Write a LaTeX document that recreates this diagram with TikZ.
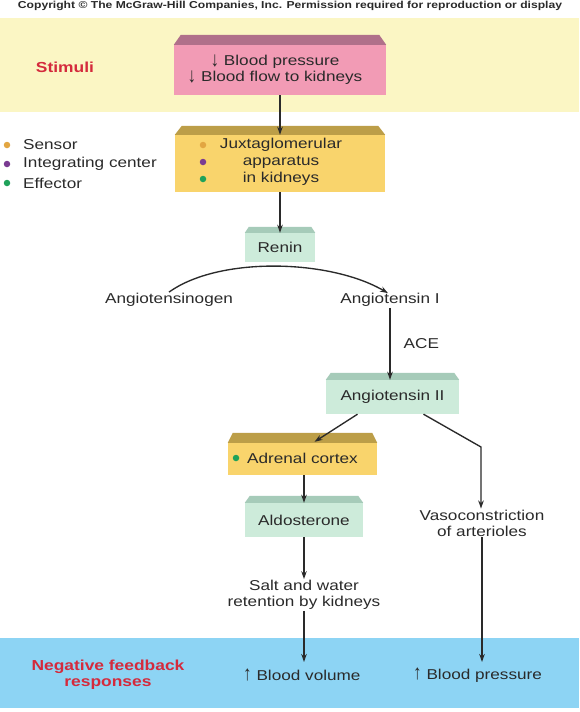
\documentclass[tikz,border=0pt]{standalone}
\usepackage{fontspec}
\setmainfont{Liberation Sans}[FakeStretch=1.2]
\usetikzlibrary{arrows.meta,calc}
\definecolor{bandyellow}{HTML}{FBF6C4}
\definecolor{bandblue}{HTML}{8DD4F4}
\definecolor{pinkbody}{HTML}{F29BB5}
\definecolor{pinkface}{HTML}{B0708A}
\definecolor{orangebody}{HTML}{F9D46C}
\definecolor{orangeface}{HTML}{BC9E48}
\definecolor{greenbody}{HTML}{CDEBDA}
\definecolor{greenface}{HTML}{A6CBB9}
\definecolor{txt}{HTML}{2A2A2A}
\definecolor{redtxt}{HTML}{D42A3C}
\definecolor{dotorange}{HTML}{E2A642}
\definecolor{dotpurple}{HTML}{7A3B92}
\definecolor{dotgreen}{HTML}{1FA25A}
\newcommand{\dn}{\raisebox{-1pt}{\scalebox{1}[1.45]{↓}}}
\newcommand{\up}{\raisebox{0pt}{\scalebox{1}[1.45]{↑}}}
\tikzset{
  txtnode/.style={inner sep=1pt, text=txt, font=\fontsize{14.3}{16}\selectfont, align=center},
  redlabel/.style={inner sep=1pt, text=redtxt, font=\fontsize{14.5}{16}\selectfont\bfseries, align=center},
  boxbody/.style={inner sep=0pt, text=txt, font=\fontsize{14.3}{16}\selectfont, align=center},
  conn/.style={draw=txt, line width=1.35pt, -{Stealth[length=8pt,width=5.5pt]}},
  dot/.style={circle, inner sep=0pt, minimum size=6.5pt}
}
\newcommand{\bevface}[4]{% node, depth, inset, colour
  \fill[#4] (#1.north west) -- ([xshift=#3, yshift=#2]#1.north west) -- ([xshift=-#3, yshift=#2]#1.north east) -- (#1.north east) -- cycle;}
\begin{document}
\begin{tikzpicture}[x=1pt, y=-1pt]
\useasboundingbox (0,0) rectangle (579,712);
\fill[white] (0,0) rectangle (579,712);
% copyright
\node[inner sep=0pt, text=txt, font=\fontsize{10.1}{11}\selectfont\bfseries] (copy) at (290,6) {Copyright \textcopyright{} The McGraw-Hill Companies, Inc. Permission required for reproduction or display};
% bands
\fill[bandyellow] (0,18) rectangle (579,112);
\fill[bandblue] (0,638) rectangle (579,708);
\node[redlabel] (stimuli) at (65,67) {Stimuli};
\node[redlabel] (negfb) at (108,675) {Negative feedback\\responses};
% stimulus box
\node[boxbody, fill=pinkbody, minimum width=212pt, minimum height=50pt] (stim) at (280,70) {};
\bevface{stim}{10pt}{7pt}{pinkface}
\node[txtnode] (stimtext) at (275,70) {\dn\ Blood pressure\\\dn\ Blood flow to kidneys};
% legend
\node[dot, fill=dotorange] (ls) at (7,145) {};
\node[dot, fill=dotpurple] (li) at (7,164) {};
\node[dot, fill=dotgreen] (le) at (7,183) {};
\node[txtnode, anchor=west] (lst) at (22,145) {Sensor};
\node[txtnode, anchor=west] (lit) at (22,164) {Integrating center};
\node[txtnode, anchor=west] (let) at (22,183) {Effector};
% JGA box
\node[boxbody, fill=orangebody, minimum width=210pt, minimum height=57pt] (jga) at (280,163.5) {};
\bevface{jga}{9pt}{7pt}{orangeface}
\node[dot, fill=dotorange] (jd1) at (203,145) {};
\node[dot, fill=dotpurple] (jd2) at (203,162) {};
\node[dot, fill=dotgreen] (jd3) at (203,179) {};
\node[txtnode] (jgat1) at (281,145) {Juxtaglomerular};
\node[txtnode] (jgat2) at (281,162) {apparatus};
\node[txtnode] (jgat3) at (281,179) {in kidneys};
% renin
\node[boxbody, fill=greenbody, minimum width=70pt, minimum height=29pt] (renin) at (280,247.5) {Renin};
\bevface{renin}{6pt}{4pt}{greenface}
% angiotensins
\node[txtnode] (angen) at (169,300) {Angiotensinogen};
\node[txtnode] (angI) at (390,300) {Angiotensin I};
\node[boxbody, fill=greenbody, minimum width=133pt, minimum height=34pt] (angII) at (392.5,397) {Angiotensin II};
\bevface{angII}{7pt}{5pt}{greenface}
% adrenal
\node[boxbody, fill=orangebody, minimum width=149pt, minimum height=32pt] (adrenal) at (302.5,459) {};
\bevface{adrenal}{10pt}{5pt}{orangeface}
\node[dot, fill=dotgreen] (ad) at (236,458) {};
\node[txtnode, anchor=west] (adt) at (246,458) {Adrenal cortex};
\node[boxbody, fill=greenbody, minimum width=118pt, minimum height=34pt] (aldo) at (304,520) {Aldosterone};
\bevface{aldo}{7pt}{5pt}{greenface}
\node[txtnode] (vaso) at (482,523) {Vasoconstriction\\of arterioles};
\node[txtnode] (salt) at (304,595) {Salt and water\\retention by kidneys};
\node[txtnode, anchor=west] (bvol) at (242,675) {\up\ Blood volume};
\node[txtnode, anchor=west] (bpres) at (412,675) {\up\ Blood pressure};
\coordinate (bvtip) at (304,662);
\coordinate (bptip) at (482,662);
\coordinate (vbend) at (481,447);
% connectors
\draw[conn] (stim.south) -- (jga.north);
\draw[conn] (jga.south) -- (renin.north);
\draw[conn] (angen.north) .. controls +(50,-36) and +(-58,-34) .. ([xshift=-2pt,yshift=-1pt]angI.north);
\draw[conn] (angI.south) -- node[txtnode, right=12pt] (ace) {ACE} (angI.south |- angII.north);
\draw[conn] ([xshift=-35pt]angII.south) -- ([xshift=12pt,yshift=1pt]adrenal.north);
\draw[conn] ([xshift=31pt]angII.south) -- (vbend) -- (vbend |- vaso.north);
\draw[conn] (aldo.north |- adrenal.south) -- (aldo.north);
\draw[conn] (aldo.south) -- (salt.north);
\draw[conn] (salt.south) -- (bvtip);
\draw[conn] (vaso.south) -- (bptip);
\end{tikzpicture}
\end{document}
